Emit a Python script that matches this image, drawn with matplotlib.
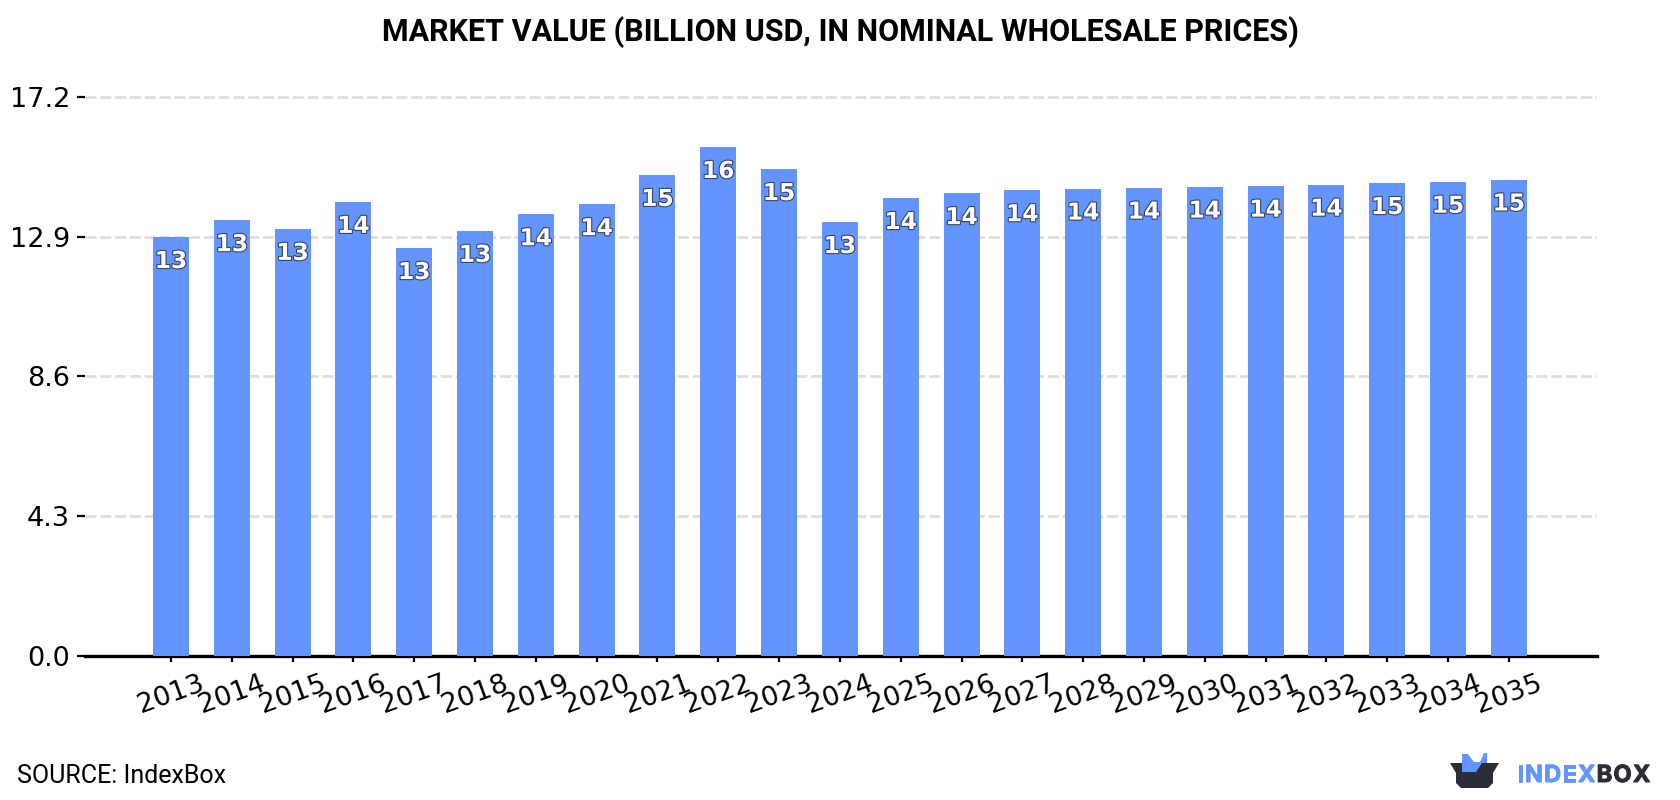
import matplotlib
matplotlib.use('Agg')
import matplotlib.pyplot as plt
import matplotlib.patheffects as pe
from matplotlib.patches import Polygon

years = [2013, 2014, 2015, 2016, 2017, 2018, 2019, 2020, 2021, 2022, 2023, 2024,
         2025, 2026, 2027, 2028, 2029, 2030, 2031, 2032, 2033, 2034, 2035]
values = [12.88, 13.40, 13.13, 13.96, 12.54, 13.07, 13.58, 13.89, 14.79, 15.65, 14.97, 13.34,
          14.08, 14.23, 14.32, 14.37, 14.40, 14.43, 14.46, 14.49, 14.54, 14.58, 14.65]
y_ticks = [0.0, 4.3, 8.6, 12.9, 17.2]

BLUE = '#6495ff'
DARK = '#2b2d38'

W, H = 1680, 800
fig = plt.figure(figsize=(W / 100, H / 100), dpi=100)
ax = fig.add_axes([85 / W, (H - 656) / H, (1597 - 85) / W, (656 - 87) / H])

ax.bar(range(len(years)), values, width=0.592, color=BLUE, zorder=3)
ax.set_xlim(-1.414, 23.45)
ax.set_ylim(0, 17.5)

ax.set_yticks(y_ticks)
ax.set_yticklabels(['%.1f' % t for t in y_ticks])
ax.set_xticks(range(len(years)))
ax.set_xticklabels(years, rotation=20)
ax.tick_params(axis='y', labelsize=19.5, length=5.8, width=1.6, pad=5)
ax.tick_params(axis='x', labelsize=19.5, length=4.5, width=1.6, pad=6)
ax.grid(axis='y', color='#dedede', linewidth=2.0, linestyle=(0, (3.96, 1.37)), zorder=0)
ax.set_axisbelow(True)

for side in ['left', 'right', 'top']:
    ax.spines[side].set_visible(False)
ax.spines['bottom'].set_linewidth(2.4)

# value labels sit just inside the top of each bar
for i, v in enumerate(values):
    ax.annotate('%.0f' % v, (i, v), xytext=(0, -17.5), textcoords='offset points',
                ha='center', va='center', fontsize=16.8, fontweight='bold', color='white',
                zorder=4, path_effects=[pe.withStroke(linewidth=1.6, foreground='#39435c')])

fig.text(0.5, 1 - 32.5 / H, 'MARKET VALUE (BILLION USD, IN NOMINAL WHOLESALE PRICES)',
         family='Roboto', fontweight='bold', fontsize=22, ha='center', va='center')
fig.text(17 / W, 1 - 783 / H, 'SOURCE: IndexBox', family='Roboto', fontsize=18, ha='left',
         va='baseline')

# logo, laid out in pixel coordinates
logo = fig.add_axes([0, 0, 1, 1], facecolor='none')
logo.set_xlim(0, W)
logo.set_ylim(H, 0)
logo.axis('off')
logo.add_patch(Polygon([(1462, 772), (1462, 754), (1468, 754), (1474, 762), (1480, 762),
                        (1484, 753), (1487, 753), (1487, 772)], color=BLUE, lw=0))
logo.add_patch(Polygon([(1450, 763), (1499, 763), (1493, 773), (1493, 783), (1488, 788),
                        (1461, 788), (1456, 783), (1456, 773)], color=DARK, lw=0))
logo.add_patch(Polygon([(1462, 763), (1482, 763), (1476, 772), (1462, 772)], color=BLUE, lw=0))

# wordmark is tracked out, so the letters are placed one at a time
renderer = fig.canvas.get_renderer()
x = 1517
for letter, colour in zip('INDEXBOX', [BLUE] * 5 + [DARK] * 3):
    t = logo.text(x, 782, letter, family='Inter', fontweight='bold', fontsize=17, color=colour,
                  ha='left', va='baseline',
                  path_effects=[pe.withStroke(linewidth=0.7, foreground=colour)])
    x += t.get_window_extent(renderer).width + 1.3

fig.savefig('out.png', dpi=100)
